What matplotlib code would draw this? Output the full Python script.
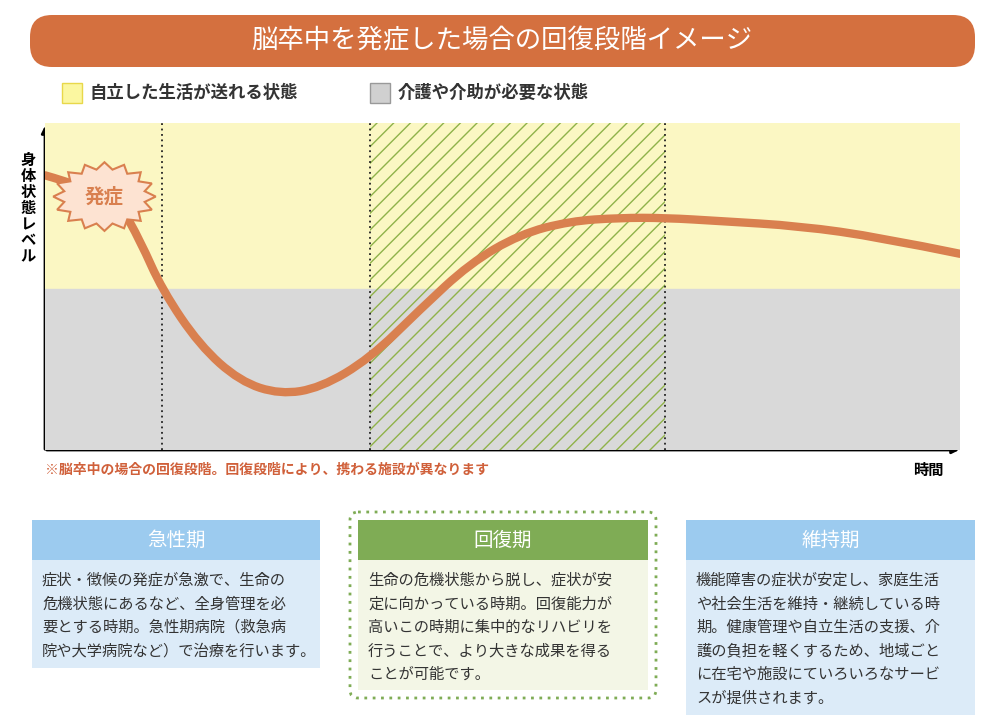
import numpy as np
import matplotlib
matplotlib.use('Agg')
import matplotlib.pyplot as plt
from matplotlib.patches import FancyBboxPatch, Rectangle, Polygon, PathPatch
from matplotlib.path import Path

plt.rcParams['font.family'] = 'Noto Sans CJK JP'

# curve: time (0-100) vs body-condition level (0-100)
curve_t = [0, 3.8, 8.2, 10.4, 12.8, 16.9, 21.3, 25.7, 30.1, 35.5, 41, 46.4,
           51.9, 57.4, 62.8, 67.8, 73.8, 82.5, 91.3, 100]
curve_y = [84, 81, 75, 64, 49, 32, 21, 17, 19, 28, 43, 57,
           66, 70, 71, 71, 70, 68.5, 65, 60]
phase_bounds = [12.8, 35.5, 67.8]
independent_level = 49.2
phases = ['急性期', '回復期', '維持期']
phase_label_x = [265, 513, 812]   # pixel centres of the label boxes
phase_colors = ['#2f9bd8', '#6e9c3c', '#2f9bd8']
descs = [
    '症状・徴候の発症が急激で、生命の\n危機状態にあるなど、全身管理を必\n要とする時期。急性期病院（救急病\n院や大学病院など）で治療を行います。',
    '生命の危機状態から脱し、症状が安\n定に向かっている時期。回復能力が\n高いこの時期に集中的なリハビリを\n行うことで、より大きな成果を得る\nことが可能です。',
    '機能障害の症状が安定し、家庭生活\nや社会生活を維持・継続している時\n期。健康管理や自立生活の支援、介\n護の負担を軽くするため、地域ごと\nに在宅や施設にていろいろなサービ\nスが提供されます。',
]

W, H = 998, 723
fig = plt.figure(figsize=(W / 100, H / 100), dpi=100)

deco = fig.add_axes([0, 0, 1, 1])
deco.set_xlim(0, W)
deco.set_ylim(H, 0)
deco.axis('off')

ax = fig.add_axes([45 / W, (H - 450) / H, 915 / W, 327 / H])
ax.set_xlim(0, 100)
ax.set_ylim(0, 100)
ax.axis('off')
ax.axhspan(independent_level, 100, color='#fbf7c3', zorder=0)
ax.axhspan(0, independent_level, color='#d9d9d9', zorder=0)
ax.add_patch(Rectangle((phase_bounds[1], 0), phase_bounds[2] - phase_bounds[1], 100,
                       facecolor='none', edgecolor='#8fb24a', hatch='//', lw=0, zorder=1))
for b in phase_bounds:
    ax.axvline(b, color='#222222', ls=(0, (1, 2)), lw=1.3, zorder=2)

# smooth quadratic-bezier rendering through the read points
pts = np.c_[curve_t, curve_y]
verts = [pts[0]]
codes = [Path.MOVETO]
for i in range(1, len(pts) - 1):
    mid = (pts[i] + pts[i + 1]) / 2 if i < len(pts) - 2 else pts[i + 1]
    verts += [pts[i], mid]
    codes += [Path.CURVE3, Path.CURVE3]
ax.add_patch(PathPatch(Path(verts, codes), fc='none', ec='#d9804f', lw=6,
                       capstyle='round', zorder=3))

# 発症 starburst
n = 32
ang = np.linspace(0, 2 * np.pi, n + 1)[:-1]
rad = np.where(np.arange(n) % 2 == 0, 1.0, 0.8)
sx = 6.5 + 5.6 * rad * np.cos(ang)
sy = 77.5 + 10.5 * rad * np.sin(ang)
ax.add_patch(Polygon(np.c_[sx, sy], closed=True, fc='#fde3d2', ec='#d9804f', lw=1.5, zorder=4))
ax.text(6.5, 77.5, '発症', ha='center', va='center', fontsize=14, fontweight='bold',
        color='#d9804f', zorder=5)

for cx, name, c in zip(phase_label_x, phases, phase_colors):
    deco.add_patch(FancyBboxPatch((cx - 71, 141), 142, 53, boxstyle='round,pad=0,rounding_size=14',
                                  fc='white', ec=c, lw=3, zorder=5))
    deco.text(cx, 168, name, ha='center', va='center', fontsize=14, color='#333333', zorder=6)

deco.annotate('', xy=(45, 123), xytext=(45, 452),
              arrowprops=dict(arrowstyle='-|>', color='black', lw=2))
deco.annotate('', xy=(962, 450), xytext=(44, 450),
              arrowprops=dict(arrowstyle='-|>', color='black', lw=2))
deco.text(28, 208, '\n'.join('身体状態レベル'), ha='center', va='center', fontsize=11,
          fontweight='bold', linespacing=1.0)
deco.text(928, 470, '時間', ha='center', va='center', fontsize=11, fontweight='bold')
deco.text(45, 470, '※脳卒中の場合の回復段階。回復段階により、携わる施設が異なります',
          ha='left', va='center', fontsize=10, color='#d0603a', fontweight='bold')

deco.add_patch(FancyBboxPatch((30, 15), 945, 52, boxstyle='round,pad=0,rounding_size=22',
                              fc='#d4703f', ec='none'))
deco.text(502, 41, '脳卒中を発症した場合の回復段階イメージ', ha='center', va='center',
          fontsize=19, color='white')

deco.add_patch(Rectangle((62, 83), 20, 20, fc='#fbf7a0', ec='#e8d84a', lw=1))
deco.text(90, 93, '自立した生活が送れる状態', va='center', fontsize=12.5, fontweight='bold', color='#333333')
deco.add_patch(Rectangle((370, 83), 20, 20, fc='#d0d0d0', ec='#999999', lw=1))
deco.text(398, 93, '介護や介助が必要な状態', va='center', fontsize=12.5, fontweight='bold', color='#333333')

boxes = [(32, 288, 668, '#9ccbef', '#dcebf8'),
         (358, 290, 690, '#7fac55', '#f3f6e6'),
         (686, 289, 715, '#9ccbef', '#dcebf8')]
deco.add_patch(FancyBboxPatch((350, 512), 306, 186, boxstyle='round,pad=0,rounding_size=8',
                              fc='none', ec='#7fac55', lw=2, ls=(0, (1, 2))))
for (x0, w, y1, hc, bc), name, txt in zip(boxes, phases, descs):
    deco.add_patch(Rectangle((x0, 520), w, 40, fc=hc, ec='none'))
    deco.add_patch(Rectangle((x0, 560), w, y1 - 560, fc=bc, ec='none'))
    deco.text(x0 + w / 2, 540, name, ha='center', va='center', fontsize=14, color='white')
    deco.text(x0 + 10, 572, txt, ha='left', va='top', fontsize=11, color='#333333',
              linespacing=1.5)

fig.savefig('out.png', dpi=100)
